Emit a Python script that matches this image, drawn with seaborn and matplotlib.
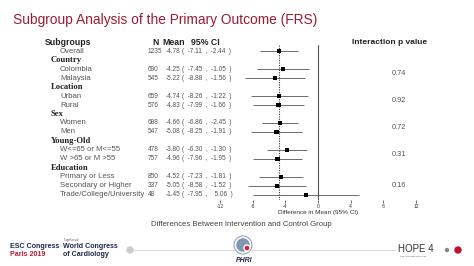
import numpy as np
import pandas as pd
import matplotlib
matplotlib.use("Agg")
import matplotlib.pyplot as plt
import seaborn as sns
from matplotlib.transforms import blended_transform_factory
from matplotlib.patches import Circle

# ---------------- data ----------------
groups = ["Country", "Location", "Sex", "Young-Old", "Education"]
group_members = [
    ["Colombia", "Malaysia"],
    ["Urban", "Rural"],
    ["Women", "Men"],
    ["W<=65 or M<=55", "W >65 or M >55"],
    ["Primary or Less", "Secondary or Higher", "Trade/College/University"],
]
p_values = ["0.74", "0.92", "0.72", "0.31", "0.16"]

subgroups = ["Overall", "Colombia", "Malaysia", "Urban", "Rural", "Women", "Men",
             "W<=65 or M<=55", "W >65 or M >55", "Primary or Less",
             "Secondary or Higher", "Trade/College/University"]
n_vals = [1235, 690, 545, 659, 576, 688, 547, 478, 757, 850, 337, 48]
means = [-4.78, -4.25, -5.22, -4.74, -4.83, -4.66, -5.08, -3.80, -4.96, -4.52, -5.05, -1.45]
ci_low = [-7.11, -7.45, -8.88, -8.26, -7.99, -6.86, -8.25, -6.30, -7.96, -7.23, -8.58, -7.95]
ci_high = [-2.44, -1.05, -1.56, -1.22, -1.66, -2.45, -1.91, -1.30, -1.95, -1.81, -1.52, 5.06]
x_ticks = [-12, -8, -4, 0, 4, 8, 12]

# ---------------- layout rows ----------------
row_of = {"Overall": 1}
group_row = {}
r = 2
for g, mem in zip(groups, group_members):
    group_row[g] = r
    r += 1
    for m in mem:
        row_of[m] = r
        r += 1

df = pd.DataFrame({"label": subgroups, "n": n_vals, "mean": means,
                   "lo": ci_low, "hi": ci_high})
df["row"] = df["label"].map(row_of)

# ---------------- figure ----------------
sns.set_theme(style="white")
plt.rcParams["font.family"] = ["Liberation Sans", "DejaVu Sans"]

W, H = 474, 266
fig = plt.figure(figsize=(W / 100, H / 100), dpi=100)
fig.patch.set_facecolor("white")

# background overlay in pixel coordinates (footer decoration)
bg = fig.add_axes([0, 0, 1, 1])
bg.set_xlim(0, W)
bg.set_ylim(H, 0)
bg.axis("off")

# forest axis
ax = fig.add_axes([220 / W, 1 - 200 / H, 196 / W, 155 / H])
ax.set_facecolor("none")
ax.hlines(df["row"], df["lo"], df["hi"], color="#555555", lw=0.6, zorder=2)
sns.scatterplot(data=df, x="mean", y="row", marker="s", s=9, color="black",
                edgecolor="none", ax=ax, legend=False, zorder=3)
ax.axvline(0, color="#555555", lw=0.8, zorder=1)
ax.axvline(means[0], color="#333333", lw=0.8, ls=(0, (1, 1.2)), zorder=1)
ax.set_xlim(-12, 12)
ax.set_ylim(17.56, 0.33)
ax.set_xticks(x_ticks)
ax.set_xticklabels([str(t) for t in x_ticks])
ax.set_yticks([])
ax.set_ylabel("")
ax.tick_params(axis="x", bottom=True, length=2, width=0.5, pad=1,
               labelsize=3.6, colors="#333333")
for s in ax.spines.values():
    s.set_visible(False)
ax.set_xlabel("Difference in Mean (95% CI)", fontsize=4.6, labelpad=0.5,
              color="#333333")

tr = blended_transform_factory(fig.transFigure, ax.transData)


def fx(x):
    return x / W


grey = "#555555"
fs = 5.6
fn = 4.7
# header
ax.text(fx(45), 0, "Subgroups", transform=tr, fontsize=6.3, fontweight="bold",
        va="center", ha="left", color="#222222")
ax.text(fx(152), 0, "N", transform=tr, fontsize=6.3, fontweight="bold",
        va="center", ha="left", color="#222222")
ax.text(fx(162), 0, "Mean", transform=tr, fontsize=6.3, fontweight="bold",
        va="center", ha="left", color="#222222")
ax.text(fx(191), 0, "95% CI", transform=tr, fontsize=6.3, fontweight="bold",
        va="center", ha="left", color="#222222")
ax.text(fx(352), 0, "Interaction p value", transform=tr, fontsize=6.0,
        fontweight="bold", va="center", ha="left", color="#222222")

# group labels
for g in groups:
    ax.text(fx(51), group_row[g], g, transform=tr, fontsize=6.2,
            fontweight="bold", family=["Liberation Serif", "DejaVu Serif"],
            va="center", ha="left", color="#222222")

# subgroup rows
for _, rw in df.iterrows():
    ax.text(fx(60), rw["row"], rw["label"], transform=tr, fontsize=fs,
            va="center", ha="left", color=grey)
    ax.text(fx(148), rw["row"], f"{rw['n']}", transform=tr, fontsize=fn,
            va="center", ha="left", color=grey)
    ax.text(fx(165.5), rw["row"], f"{rw['mean']:.2f}", transform=tr,
            fontsize=fn, va="center", ha="left", color=grey)
    hi = f"{rw['hi']:.2f}"
    if rw["hi"] >= 0:
        hi = "  " + hi
    ax.text(fx(182.5), rw["row"], f"(  {rw['lo']:.2f}  ,  {hi}  )",
            transform=tr, fontsize=fn, va="center", ha="left", color=grey)

# p values
for g, mem, p in zip(groups, group_members, p_values):
    rr = np.mean([row_of[m] for m in mem])
    ax.text(fx(392), rr, p, transform=tr, fontsize=5.3, va="center",
            ha="left", color=grey)

# title
fig.text(fx(13), 1 - 20 / H, "Subgroup Analysis of the Primary Outcome (FRS)",
         fontsize=9.9, color="#9b1c31", va="center", ha="left")

# caption
fig.text(fx(241), 1 - 224 / H,
         "Differences Between Intervention and Control Group",
         fontsize=5.6, color="#444444", va="center", ha="center")

# ---------------- footer ----------------
bg.plot([130, 400], [250, 250], color="#dddddd", lw=0.8, zorder=1)
bg.add_patch(Circle((130, 250), 3, color="#cccccc", zorder=2))
bg.text(10, 247, "ESC Congress", fontsize=5.1, fontweight="bold",
        color="#1c2a4d", va="center", ha="left")
bg.text(10, 255, "Paris 2019", fontsize=5.1, fontweight="bold",
        color="#c2183a", va="center", ha="left")
bg.text(64, 240, "Together with", fontsize=1.8, color="#555555",
        va="center", ha="left")
bg.text(63, 247, "World Congress", fontsize=5.1, fontweight="bold",
        color="#1c2a4d", va="center", ha="left")
bg.text(63, 255, "of Cardiology", fontsize=5.1, fontweight="bold",
        color="#1c2a4d", va="center", ha="left")
# PHRI logo
bg.add_patch(Circle((243, 245), 9, facecolor="#ffffff", edgecolor="#8aa0b8",
                    lw=0.8, zorder=3))
bg.add_patch(Circle((243, 245), 7.5, facecolor="#7f97b0", zorder=4))
bg.add_patch(Circle((247, 248), 3, facecolor="#d81f2a", zorder=5))
bg.text(244, 261, "PHRI", fontsize=5, fontweight="bold", style="italic",
        color="#1c2a4d", va="center", ha="center", zorder=5)
# HOPE 4 logo
bg.add_patch(plt.Rectangle((396, 241), 38, 18, facecolor="white",
                           edgecolor="none", zorder=2))
bg.text(398, 249, "HOPE 4", fontsize=7, color="#333333", va="center",
        ha="left", zorder=3)
bg.text(400, 256, "Heart Outcomes Prevention", fontsize=1.5,
        color="#444444", va="center", ha="left", zorder=3)
bg.add_patch(Circle((447, 250), 1.5, color="#888888", zorder=3))
bg.add_patch(Circle((458, 250), 3, color="#c0102a", zorder=3))

fig.savefig("out.png", dpi=100, facecolor="white")
